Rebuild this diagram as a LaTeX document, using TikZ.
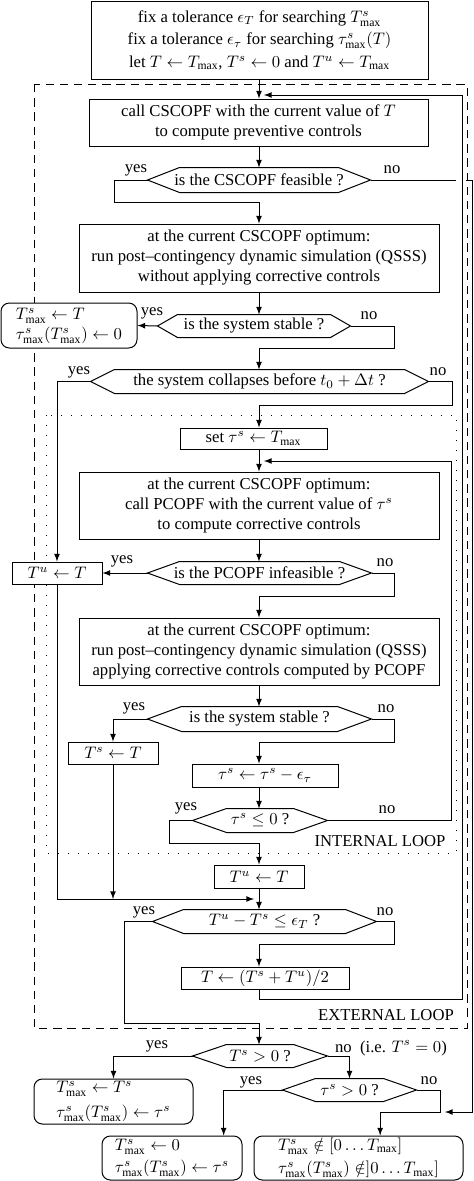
\documentclass[tikz,border=0pt]{standalone}
\usepackage{amsmath,amssymb}
\usepackage{fontspec}
\setmainfont{Liberation Serif}
\usepackage{tikz}
\usetikzlibrary{calc}

\tikzset{
  box/.style={draw, fill=white, align=center, inner sep=1pt},
  rbox/.style={draw, fill=white, rounded corners=5pt, align=left, inner sep=1pt},
  dec/.style={inner sep=0pt},
  lab/.style={inner sep=0pt},
  loopline/.style={dash pattern=on 5pt off 3.5pt},
  innerline/.style={dash pattern=on 0.8pt off 5.2pt},
}

\begin{document}
\begin{tikzpicture}[x=0.6pt, y=-0.6pt, >=latex, line width=0.6pt]
 \useasboundingbox (0,0) rectangle (474,1181);
 % loops
 \draw [loopline] (34,84) rectangle (467,1028);
 \draw [innerline] (46,415) rectangle (456,853);
 \coordinate (ax) at (259,0);
 \coordinate (jt) at (259,95);
 \coordinate (ji) at (259,461);
 \coordinate (jm) at (259,899);
 \coordinate (jn) at (440,1112);

 \node [box, minimum width=202.2pt, minimum height=46.8pt] (init) at (259.5,40)
   {fix a tolerance $\epsilon_T$ for searching $T^s_{\max}$\\[1.5pt]
    fix a tolerance $\epsilon_\tau$ for searching $\tau^s_{\max}(T)$\\[1.5pt]
    let $T \leftarrow T_{\max}$, $T^s \leftarrow 0$ and $T^u \leftarrow T_{\max}$};
 \node [box, minimum width=203.4pt, minimum height=28.2pt] (call) at (258.5,122.5)
   {call CSCOPF with the current value of $T$\\ to compute preventive controls};
 \node [dec, minimum width=133.2pt, minimum height=14.4pt] (feas) at (259,180)
   {is the CSCOPF feasible ?};
 \node [box, minimum width=216pt, minimum height=40.8pt] (run1) at (259,258)
   {at the current CSCOPF optimum:\\
    run post--contingency dynamic simulation (QSSS)\\
    without applying corrective controls};
 \node [dec, minimum width=115.2pt, minimum height=13.2pt] (st1) at (254,326)
   {is the system stable ?};
 \node [rbox, minimum width=81.6pt, minimum height=27pt] (stop1) at (69,325.5)
   {$T^s_{\max} \leftarrow T$\\ $\tau^s_{\max}(T^s_{\max}) \leftarrow 0$};
 \node [dec, minimum width=202.2pt, minimum height=13.8pt] (col) at (259.5,381.5)
   {the system collapses before $t_0 + \Delta t$ ?};
 \node [box, minimum width=88.2pt, minimum height=12.6pt] (settau) at (253.5,438.5)
   {set $\tau^s \leftarrow T_{\max}$};
 \node [box, minimum width=216pt, minimum height=40.2pt] (pcopf) at (259,505.5)
   {at the current CSCOPF optimum:\\
    call PCOPF with the current value of $\tau^s$\\
    to compute corrective controls};
 \node [box, minimum width=54pt, minimum height=13.2pt] (tu1) at (57,573) {$T^u \leftarrow T$};
 \node [dec, minimum width=133.8pt, minimum height=13.2pt] (inf) at (259.5,573)
   {is the PCOPF infeasible ?};
 \node [box, minimum width=216pt, minimum height=40.2pt] (run2) at (259,651.5)
   {at the current CSCOPF optimum:\\
    run post--contingency dynamic simulation (QSSS)\\
    applying corrective controls computed by PCOPF};
 \node [dec, minimum width=133.8pt, minimum height=14.4pt] (st2) at (259.5,719)
   {is the system stable ?};
 \node [box, minimum width=54pt, minimum height=13.2pt] (ts) at (113,753) {$T^s \leftarrow T$};
 \node [box, minimum width=87.6pt, minimum height=13.8pt] (taudec) at (265,775.5)
   {$\tau^s \leftarrow \tau^s - \epsilon_\tau$};
 \node [dec, minimum width=80.4pt, minimum height=13.8pt] (tneg) at (260,820.5) {$\tau^s \le 0$ ?};
 \node [box, minimum width=54pt, minimum height=13.8pt] (tu2) at (259,876.5) {$T^u \leftarrow T$};
 \node [dec, minimum width=133.8pt, minimum height=13.8pt] (conv) at (264.5,921.5)
   {$T^u - T^s \le \epsilon_T$ ?};
 \node [box, minimum width=100.8pt, minimum height=13.2pt] (bis) at (265,978)
   {$T \leftarrow (T^s + T^u)/2$};
 \node [dec, minimum width=80.4pt, minimum height=13.2pt] (tsp) at (260,1056) {$T^s > 0$ ?};
 \node [dec, minimum width=79.8pt, minimum height=13.2pt] (tp) at (349.5,1090) {$\tau^s > 0$ ?};
 \node [rbox, minimum width=95.4pt, minimum height=27pt] (res1) at (113.5,1101.5)
   {$T^s_{\max} \leftarrow T^s$\\[3pt] $\tau^s_{\max}(T^s_{\max}) \leftarrow \tau^s$};
 \node [rbox, minimum width=84pt, minimum height=26.4pt] (res2) at (172,1158)
   {$T^s_{\max} \leftarrow 0$\\[1pt] $\tau^s_{\max}(T^s_{\max}) \leftarrow \tau^s$};
 \node [rbox, minimum width=125.4pt, minimum height=26.4pt] (res3) at (358.5,1158)
   {$T^s_{\max} \notin [0 \ldots T_{\max}]$\\[2pt] $\tau^s_{\max}(T^s_{\max}) \notin ]0 \ldots T_{\max}]$};

 % decision outlines
 \draw (feas.west) -- ($(feas.north west)+(32,0)$) -- ($(feas.north east)+(-32,0)$) -- (feas.east) -- ($(feas.south east)+(-32,0)$) -- ($(feas.south west)+(32,0)$) -- cycle;
 \draw (st1.west) -- ($(st1.north west)+(20,0)$) -- ($(st1.north east)+(-20,0)$) -- (st1.east) -- ($(st1.south east)+(-20,0)$) -- ($(st1.south west)+(20,0)$) -- cycle;
 \draw (col.west) -- ($(col.north west)+(24,0)$) -- ($(col.north east)+(-24,0)$) -- (col.east) -- ($(col.south east)+(-24,0)$) -- ($(col.south west)+(24,0)$) -- cycle;
 \draw (inf.west) -- ($(inf.north west)+(32,0)$) -- ($(inf.north east)+(-32,0)$) -- (inf.east) -- ($(inf.south east)+(-32,0)$) -- ($(inf.south west)+(32,0)$) -- cycle;
 \draw (st2.west) -- ($(st2.north west)+(34,0)$) -- ($(st2.north east)+(-34,0)$) -- (st2.east) -- ($(st2.south east)+(-34,0)$) -- ($(st2.south west)+(34,0)$) -- cycle;
 \draw (tneg.west) -- ($(tneg.north west)+(34,0)$) -- ($(tneg.north east)+(-34,0)$) -- (tneg.east) -- ($(tneg.south east)+(-34,0)$) -- ($(tneg.south west)+(34,0)$) -- cycle;
 \draw (conv.west) -- ($(conv.north west)+(31,0)$) -- ($(conv.north east)+(-31,0)$) -- (conv.east) -- ($(conv.south east)+(-31,0)$) -- ($(conv.south west)+(31,0)$) -- cycle;
 \draw (tsp.west) -- ($(tsp.north west)+(34,0)$) -- ($(tsp.north east)+(-34,0)$) -- (tsp.east) -- ($(tsp.south east)+(-34,0)$) -- ($(tsp.south west)+(34,0)$) -- cycle;
 \draw (tp.west) -- ($(tp.north west)+(33,0)$) -- ($(tp.north east)+(-33,0)$) -- (tp.east) -- ($(tp.south east)+(-33,0)$) -- ($(tp.south west)+(33,0)$) -- cycle;

 % yes / no
 \node [lab] (y1) at (136,170) {yes};
 \node [lab] (n1) at (392,170) {no};
 \node [lab] (y2) at (152,313) {yes};
 \node [lab] (n2) at (369,316) {no};
 \node [lab] (y3) at (79,372) {yes};
 \node [lab] (n3) at (438,372) {no};
 \node [lab] (y4) at (122,561) {yes};
 \node [lab] (n4) at (385,563) {no};
 \node [lab] (y5) at (134,708) {yes};
 \node [lab] (n5) at (386,709) {no};
 \node [lab] (y6) at (186,808) {yes};
 \node [lab] (n6) at (387,810) {no};
 \node [lab] (y7) at (144,912) {yes};
 \node [lab] (n7) at (385,912) {no};
 \node [lab] (y8) at (157,1046) {yes};
 \node [lab] (n8) at (391,1048) {no\ \ (i.e. $T^s = 0$)};
 \node [lab] (y9) at (251,1082) {yes};
 \node [lab] (n9) at (429,1081) {no};
 \node [lab] (il) at (380,841) {INTERNAL LOOP};
 \node [lab] (el) at (386,1015) {EXTERNAL LOOP};

 \draw [->] (init.south -| ax) -- (call.north -| ax);
 \draw [->] (call.south -| ax) -- (feas.north -| ax);
 \draw [->] (feas.west) -| (114,202) -| (run1.north -| ax);
 \draw (feas.east) -- (456,180);
 \draw [->] (466,180) -| (472,1112) -- ([xshift=3]jn);
 \draw [->] (run1.south -| ax) -- (st1.north -| ax);
 \draw [->] (st1.west) -- (stop1.east);
 \draw [->] (st1.east) -| (394,348) -| (col.north -| ax);
 \draw [->] (col.west) -| (tu1.north);
 \draw [->] (col.east) -| (452,405) -| (settau.north -| ax);
 \draw [->] (settau.south -| ax) -- (pcopf.north -| ax);
 \draw [->] (pcopf.south -| ax) -- (inf.north -| ax);
 \draw [->] (inf.west) -- (tu1.east);
 \draw [->] (inf.east) -| (394,596) -| (run2.north -| ax);
 \draw [->] (run2.south -| ax) -- (st2.north -| ax);
 \draw [->] (st2.west) -| (ts.north);
 \draw [->] (st2.east) -| (394,742) -| (taudec.north -| ax);
 \draw [->] (taudec.south -| ax) -- (tneg.north -| ax);
 \draw [->] (tneg.east) -| (451,461) -- ([xshift=3]ji);
 \draw [->] (tneg.west) -| (169,843) -| (tu2.north -| ax);
 \draw [->] (tu2.south -| ax) -- (conv.north -| ax);
 \draw [->] (tu1.south) |- ([xshift=-3]jm);
 \draw [->] (ts.south) -- (ts.south |- jm);
 \draw [->] (conv.west) -| (124,1023) -| (tsp.north -| ax);
 \draw [->] (conv.east) -| (394,944) -| (bis.north -| ax);
 \draw [->] (bis.south -| ax) |- (462,999) |- ([xshift=3]jt);
 \draw [->] (tsp.west) -| (res1.north);
 \draw [->] (tsp.east) -| (tp.north);
 \draw [->] (tp.west) -| ([xshift=31]res2.north);
 \draw [->] (tp.east) -| (jn) -| ([xshift=13]res3.north);
\end{tikzpicture}
\end{document}
